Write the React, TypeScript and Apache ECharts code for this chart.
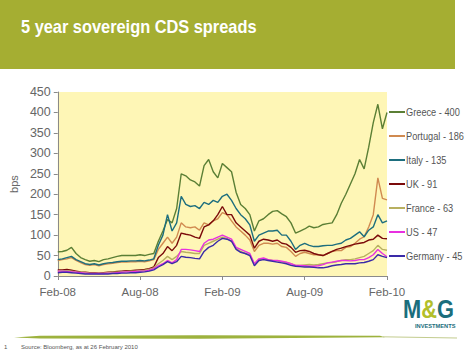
import React, { useEffect, useRef } from "react";
import * as echarts from "echarts";

const tickLabels = ["Feb-08", "Aug-08", "Feb-09", "Aug-09", "Feb-10"];
const yTicks = [0, 50, 100, 150, 200, 250, 300, 350, 400, 450];
const seriesNames = ["Greece - 400", "Portugal - 186", "Italy - 135", "UK - 91", "France - 63", "US - 47", "Germany - 45"];
const seriesColors = ["#5B7F35", "#D08A50", "#1D6E7E", "#7B0A0A", "#B8B060", "#E830E0", "#3A2AA8"];

const greece = [59,60,63,70,55,45,40,36,38,35, 40,42,45,48,50,50,50,50,52,50, 53,55,85,110,138,130,165,250,245,235, 230,220,270,285,255,240,275,265,255,205, 175,165,150,110,135,140,150,158,160,152, 145,130,105,110,115,122,118,120,126,128, 130,150,178,200,225,250,285,262,315,375, 420,360,400];
const portugal = [38,40,42,45,38,33,28,26,28,25, 28,30,31,33,34,34,35,35,36,35, 37,40,65,80,95,80,95,130,120,118, 120,112,130,125,135,140,155,150,135,120, 110,100,88,60,75,80,80,78,80,72, 70,60,48,55,58,55,52,52,50,55, 60,62,62,70,72,80,90,96,120,150, 240,190,186];
const italy = [40,42,45,48,40,35,30,28,30,27, 30,32,33,35,36,36,37,37,38,37, 39,42,75,100,150,110,130,195,175,170, 172,165,180,175,185,180,195,200,185,165, 150,140,125,85,100,105,110,110,112,100, 100,85,65,75,80,75,72,72,74,75, 75,78,80,88,92,100,108,96,112,120, 150,130,135];
const uk = [15,15,16,14,12,10,9,8,8,7, 8,9,10,11,12,13,13,14,15,16, 18,22,45,55,72,62,75,105,102,100, 95,92,120,125,135,150,170,150,150,130, 120,110,100,68,85,90,88,85,88,80, 78,70,58,62,63,60,55,52,50,55, 60,65,68,72,75,78,80,82,88,90, 100,92,91];
const france = [12,13,13,12,10,9,8,7,7,6, 7,8,9,9,10,11,12,12,13,14, 16,20,30,38,48,40,48,60,58,57, 55,55,75,80,85,90,95,92,85,68, 60,55,52,30,40,42,40,38,37,35, 33,30,26,26,27,28,27,28,30,32, 33,35,38,40,40,42,45,48,55,62, 75,65,63];
const us = [12,12,11,10,9,8,7,6,6,6, 6,7,7,8,9,10,10,11,12,12, 14,18,25,30,38,32,40,65,65,64, 62,60,80,88,90,95,100,95,90,70, 65,60,55,30,42,44,40,38,38,36, 34,30,26,26,25,24,24,25,28,32, 34,36,38,38,37,38,40,40,45,52, 65,55,47];
const germany = [8,9,9,8,7,6,5,5,5,5, 5,5,6,6,7,7,8,8,9,10, 12,15,22,28,35,30,35,48,46,45, 43,42,60,70,75,85,92,90,85,65, 58,55,50,25,38,40,38,36,34,32, 30,26,24,23,22,22,21,20,20,22, 25,27,28,30,30,30,32,33,36,40, 52,48,45];

const allSeries = [greece, portugal, italy, uk, france, us, germany];
const pointsPerTick = 18;

const SANS = "'Liberation Sans', Arial, sans-serif";

export default function App() {
  const ref = useRef<HTMLDivElement>(null);
  useEffect(() => {
    if (!ref.current) return;
    const chart = echarts.init(ref.current, undefined, { renderer: "svg" });
    const series: any[] = allSeries.map((vals, k) => ({
      name: seriesNames[k],
      type: "line",
      data: vals.map((v, i) => [i, v]),
      symbol: "none",
      lineStyle: { width: 1.4, color: seriesColors[k] },
      itemStyle: { color: seriesColors[k] },
      z: 2 + k,
    }));
    const legendItems: any[] = [];
    seriesNames.forEach((name, k) => {
      const yy = 112 + 24 * k;
      legendItems.push({
        type: "line",
        shape: { x1: 389, y1: yy, x2: 405, y2: yy },
        style: { stroke: seriesColors[k], lineWidth: 2 },
      });
      legendItems.push({
        type: "text",
        x: 406,
        y: yy,
        scaleX: 0.84,
        style: { text: name, fill: "#555", font: `11px ${SANS}`, align: "left", verticalAlign: "middle" },
      });
    });
    chart.setOption({
      animation: false,
      backgroundColor: "#ffffff",
      grid: { left: 43, top: 92, width: 344, height: 184, show: true, backgroundColor: "#FEF6B6", borderWidth: 0 },
      xAxis: {
        type: "value",
        min: 0,
        max: (tickLabels.length - 1) * pointsPerTick,
        interval: pointsPerTick,
        axisLine: { show: true, lineStyle: { color: "#8a8a8a", width: 1 } },
        axisTick: { show: true, length: 4, lineStyle: { color: "#8a8a8a" } },
        splitLine: { show: false },
        axisLabel: {
          formatter: (v: number) => tickLabels[Math.round(v / pointsPerTick)] ?? "",
          color: "#666",
          fontSize: 11.5,
          fontFamily: SANS,
          margin: 10,
        },
      },
      yAxis: {
        type: "value",
        min: yTicks[0],
        max: yTicks[yTicks.length - 1],
        interval: 50,
        name: "bps",
        nameLocation: "middle",
        nameGap: 32,
        nameRotate: 90,
        nameTextStyle: { color: "#666", fontSize: 11, fontFamily: SANS },
        axisLine: { show: true, lineStyle: { color: "#8a8a8a", width: 1 } },
        axisTick: { show: true, length: 4, lineStyle: { color: "#8a8a8a" } },
        splitLine: { show: false },
        axisLabel: { color: "#666", fontSize: 12.5, fontFamily: SANS, margin: 7 },
      },
      graphic: [
        { type: "rect", left: 0, top: 0, shape: { width: 455, height: 69 }, style: { fill: "#A5AE32" }, z: 0 },
        {
          type: "text", x: 21, y: 18, scaleX: 0.91,
          style: { text: "5 year sovereign CDS spreads", fill: "#ffffff", font: `bold 18px ${SANS}` },
        },
        ...legendItems,
        {
          type: "polygon",
          shape: { points: [[14, 337.5], [40, 335.8], [200, 335.3], [380, 335.8], [385, 337.2], [200, 338.8], [40, 338.6]] },
          style: { fill: "#9DB23E" },
        },
        { type: "line", shape: { x1: 383, y1: 336.8, x2: 457, y2: 338 }, style: { stroke: "#C3CC8E", lineWidth: 1 } },
        { type: "text", left: 4, top: 344, style: { text: "1", fill: "#555", font: `6px ${SANS}` } },
        { type: "text", left: 21, top: 344, style: { text: "Source: Bloomberg, as at 26 February 2010", fill: "#555", font: `6px ${SANS}` } },
        {
          type: "text", x: 403, y: 296, scaleX: 0.84,
          style: {
            text: "{m|M}{a|&}{g|G}",
            rich: {
              m: { fill: "#1B6E7C", font: `bold 26px ${SANS}` },
              a: { fill: "#B3BF2A", font: `bold 26px ${SANS}` },
              g: { fill: "#1B6E7C", font: `bold 26px ${SANS}` },
            },
          },
        },
        { type: "text", x: 415, y: 323, scaleX: 0.95, style: { text: "INVESTMENTS", fill: "#1B6E7C", font: `bold 6px ${SANS}` } },
      ],
      series,
    });
    return () => chart.dispose();
  }, []);
  return <div ref={ref} style={{ position: "fixed", left: 0, top: 0, width: 474, height: 355 }} />;
}
